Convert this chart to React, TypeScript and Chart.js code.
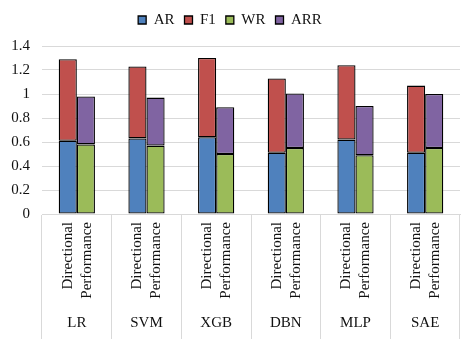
import React, { useEffect, useRef } from "react";
import { Chart, registerables } from "chart.js";

Chart.register(...registerables);

const categories = ["LR", "SVM", "XGB", "DBN", "MLP", "SAE"];
const innerLabel = ["Directional", "Performance"];
const arValues = [0.61, 0.63, 0.64, 0.51, 0.62, 0.51];
const f1Values = [0.68, 0.6, 0.66, 0.62, 0.62, 0.56];
const wrValues = [0.58, 0.57, 0.5, 0.55, 0.49, 0.55];
const arrValues = [0.4, 0.4, 0.39, 0.455, 0.41, 0.45];
const yMin = 0;
const yMax = 1.4;
const yStep = 0.2;

const FONT = "'Liberation Serif', 'Times New Roman', serif";
const TEXT = "#111111";
const GRID = "#d9d9d9";

const legendSpacer = {
  id: "legendSpacer",
  beforeLayout(chart: any) {
    const lg = chart.legend;
    if (lg && !lg.__patched) {
      const fit = lg.fit;
      lg.fit = function () {
        fit.call(this);
        this.height += 8.5;
      };
      lg.__patched = true;
    }
  },
};

export default function App() {
  const ref = useRef<HTMLCanvasElement | null>(null);

  useEffect(() => {
    if (!ref.current) return;
    const mk = (label: string, data: number[], color: string, stack: string) => ({
      label,
      data,
      backgroundColor: color,
      borderColor: "#000000",
      borderWidth: 1.3,
      borderSkipped: false,
      inflateAmount: 0,
      stack,
      xAxisID: "x",
      yAxisID: "y",
      categoryPercentage: 0.52,
      barPercentage: 1,
    });
    const chart = new Chart(ref.current, {
      type: "bar",
      data: {
        labels: categories.map(() => innerLabel),
        datasets: [
          mk("AR", arValues, "#4f81bd", "a"),
          mk("F1", f1Values, "#c0504d", "a"),
          mk("WR", wrValues, "#9bbb59", "b"),
          mk("ARR", arrValues, "#8064a2", "b"),
        ] as any,
      },
      options: {
        animation: false,
        responsive: false,
        maintainAspectRatio: false,
        layout: { padding: { top: 2.5, left: 0, right: 14, bottom: 7 } },
        plugins: {
          legend: {
            position: "top",
            labels: {
              boxWidth: 8,
              boxHeight: 8,
              padding: 10,
              color: TEXT,
              font: { family: FONT, size: 15 },
            },
          },
          tooltip: { enabled: false },
        },
        scales: {
          x: {
            type: "category",
            position: "bottom",
            stacked: true,
            offset: true,
            weight: 0,
            grid: {
              display: true,
              drawOnChartArea: false,
              offset: true,
              tickLength: 89,
              color: GRID,
            },
            border: { display: true, color: GRID },
            ticks: {
              autoSkip: false,
              maxRotation: 90,
              minRotation: 90,
              padding: -81,
              labelOffset: -9,
              color: TEXT,
              font: { family: FONT, size: 15, lineHeight: 1.25 },
            },
            afterFit(s: any) {
              s.height = 89;
            },
          },
          x2: {
            type: "category",
            labels: categories,
            position: "bottom",
            offset: true,
            weight: 1,
            grid: {
              display: true,
              drawOnChartArea: false,
              offset: true,
              tickLength: 36,
              color: GRID,
            },
            border: { display: false },
            ticks: {
              autoSkip: false,
              maxRotation: 0,
              minRotation: 0,
              padding: -25,
              color: TEXT,
              font: { family: FONT, size: 15 },
            },
            afterFit(s: any) {
              s.height = 29;
            },
          },
          y: {
            stacked: true,
            min: yMin,
            max: yMax,
            grid: { color: GRID, drawTicks: false },
            border: { display: false },
            ticks: {
              stepSize: yStep,
              padding: 12,
              color: TEXT,
              font: { family: FONT, size: 15 },
              callback: (v: any) => String(Number(Number(v).toFixed(1))),
            },
            afterFit(s: any) {
              s.width = 42;
            },
          },
        } as any,
      },
      plugins: [legendSpacer],
    });
    return () => chart.destroy();
  }, []);

  return (
    <div style={{ position: "fixed", left: 0, top: 0, width: 474, height: 339, background: "#fff" }}>
      <canvas ref={ref} width={474} height={339} style={{ display: "block" }} />
    </div>
  );
}
